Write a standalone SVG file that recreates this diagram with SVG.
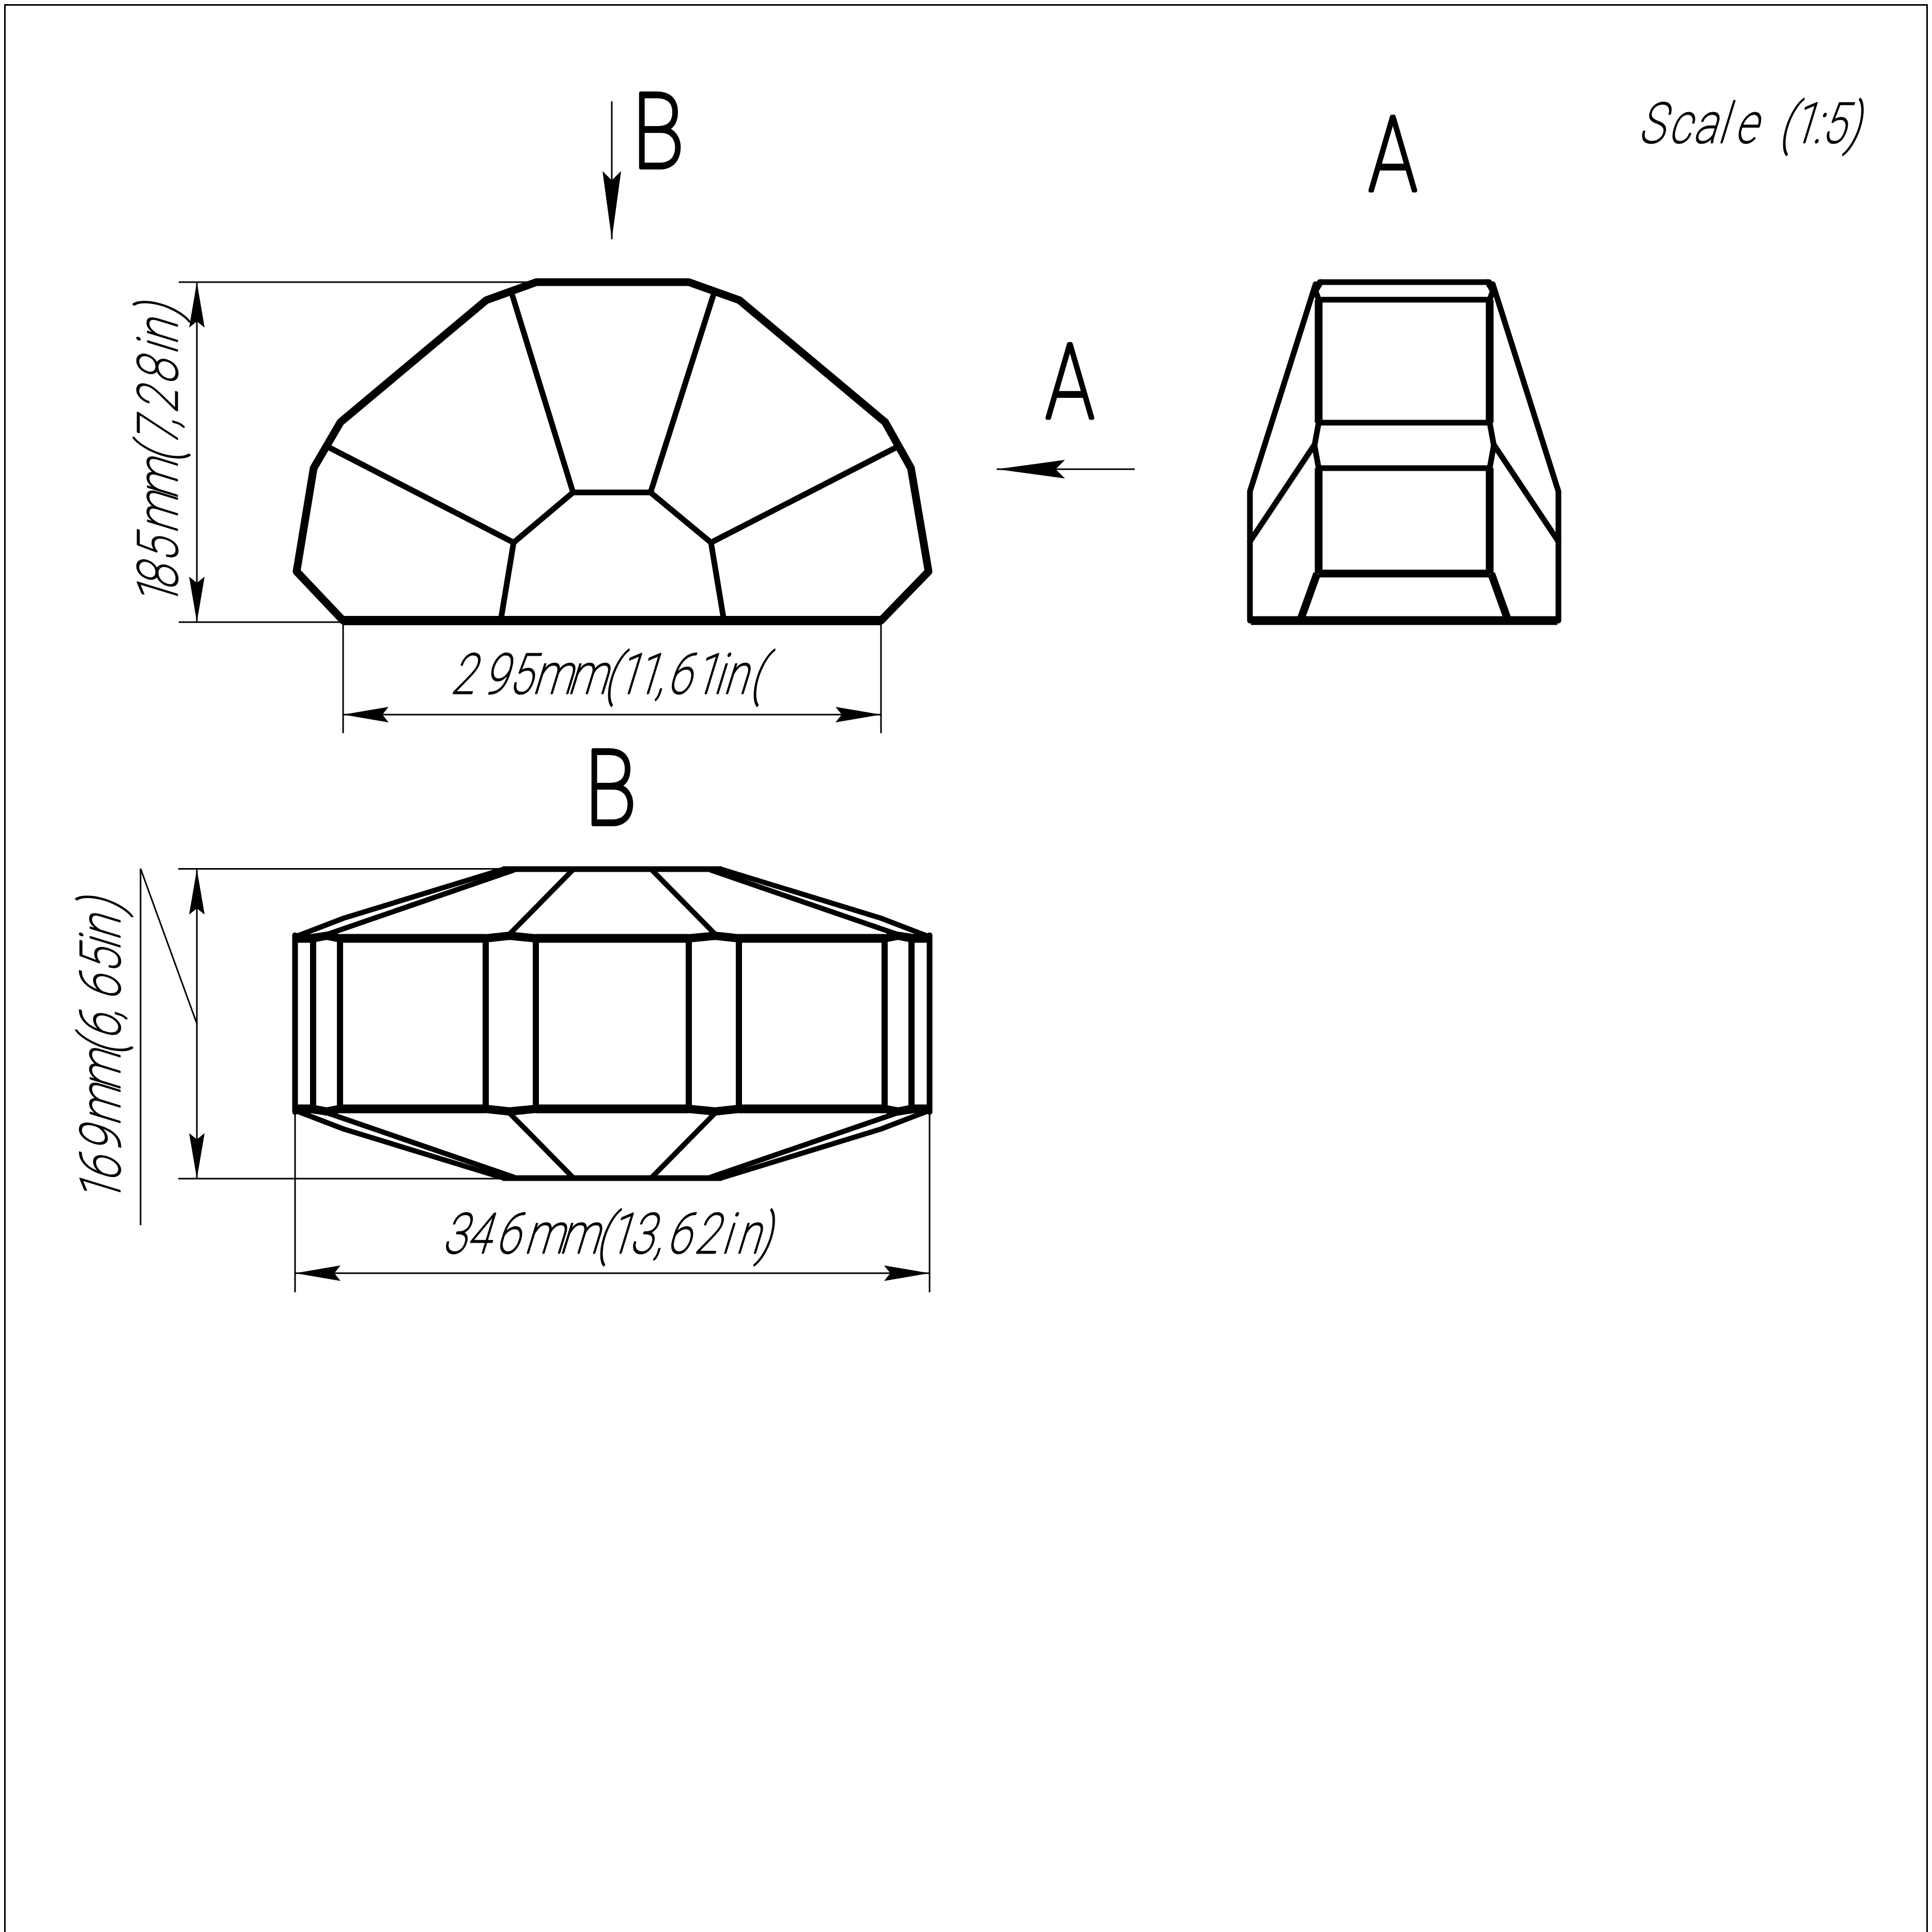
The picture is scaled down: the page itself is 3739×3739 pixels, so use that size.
<svg xmlns="http://www.w3.org/2000/svg" width="3739" height="3739" viewBox="0 0 3739 3739">
<style>
.o{fill:none;stroke:#000;stroke-width:15;stroke-linejoin:round;stroke-linecap:round}
.i{fill:none;stroke:#000;stroke-width:11;stroke-linejoin:round;stroke-linecap:round}
.j{fill:none;stroke:#000;stroke-width:10;stroke-linejoin:round;stroke-linecap:round}
.h{fill:none;stroke:#000;stroke-width:16;stroke-linejoin:round;stroke-linecap:butt}
.v{fill:none;stroke:#000;stroke-width:12}
.t{fill:none;stroke:#000;stroke-width:3}
.big{font-family:Roboto,"Liberation Sans",sans-serif;font-weight:100;font-size:200px;fill:#000;stroke:#000;stroke-width:8;stroke-linejoin:round}
.dim{font-family:Roboto,"Liberation Sans",sans-serif;font-weight:100;font-size:108px;fill:#000;stroke:#000;stroke-width:3;stroke-linejoin:round}
</style>
<defs>
<polygon id="ar" points="0,0 88,-15 76,0 88,15" fill="#000"/>
<g id="halfB">
<polyline class="j" points="574,1812 665,1777 975,1682"/>
<polyline class="j" points="606,1812 634,1808 994,1684"/>
<polyline class="j" points="1796,1812 1705,1777 1395,1682"/>
<polyline class="j" points="1764,1812 1736,1808 1376,1684"/>
<line class="j" x1="986" y1="1808" x2="1108" y2="1684"/>
<line class="j" x1="1384" y1="1808" x2="1262" y2="1684"/>
<path class="h" d="M571 1816H606M658 1816H940M1037 1816H1333M1430 1816H1712M1764 1816H1799" style="stroke-width:17"/>
<polyline class="h" points="606,1816 632,1811 658,1816"/>
<polyline class="h" points="940,1816 986,1811 1037,1816"/>
<polyline class="h" points="1333,1816 1384,1811 1430,1816"/>
<polyline class="h" points="1712,1816 1738,1811 1764,1816"/>
<line x1="973" y1="1682" x2="1397" y2="1682" style="stroke:#000;stroke-width:11"/>
</g>
</defs>
<path class="t" d="M9.500 3739V9.500H3729.500V3739"/>

<g id="front-view">
<polygon class="o" points="1038,546 1333,546 1431,581 1713,817 1763,906 1797,1106 1705,1201 664,1201 574,1106 607,906 659,817 941,581"/>
<line x1="664" y1="1201" x2="1705" y2="1201" style="stroke:#000;stroke-width:18"/>
<line x1="1038" y1="546" x2="1333" y2="546" style="stroke:#000;stroke-width:14"/>
<polyline class="i" points="992,573 1109,953 1259,953 1380,573"/>
<polyline class="i" points="635,865 994,1050 1109,953"/>
<polyline class="i" points="1736,865 1376,1050 1259,953"/>
<line class="i" x1="994" y1="1050" x2="970" y2="1195"/>
<line class="i" x1="1376" y1="1050" x2="1400" y2="1195"/>
</g>

<g id="top-view">
<use href="#halfB"/>
<use href="#halfB" transform="matrix(1 0 0 -1 0 3962)"/>
<path class="v" d="M606 1816V2146M658 1816V2146M940 1816V2146M1037 1816V2146M1333 1816V2146M1430 1816V2146M1712 1816V2146M1764 1816V2146"/>
<path class="v" d="M571 1810V2152M1799 1810V2152" style="stroke-width:11;stroke-linecap:round"/>
</g>

<g id="side-view">
<line x1="2554" y1="546" x2="2882" y2="546" class="i"/>
<line x1="2552" y1="580" x2="2883" y2="580" class="i"/>
<line x1="2552" y1="818" x2="2883" y2="818" class="i"/>
<line x1="2552" y1="906" x2="2883" y2="906" class="i"/>
<line x1="2552" y1="1110" x2="2883" y2="1110" style="stroke:#000;stroke-width:15"/>
<path d="M2552 580V818M2883 580V818M2552 906V1110M2883 906V1110" style="fill:none;stroke:#000;stroke-width:15"/>
<polyline class="i" points="2552,818 2544,862 2552,906"/>
<polyline class="i" points="2883,818 2891,862 2883,906"/>
<polyline class="i" points="2556,546 2546,563 2552,580"/>
<polyline class="i" points="2879,546 2889,563 2883,580"/>
<polyline class="i" points="2546,550 2419,951 2419,1201"/>
<polyline class="i" points="2889,550 3016,951 3016,1201"/>
<line class="i" x1="2543" y1="862" x2="2419" y2="1048"/>
<line class="i" x1="2892" y1="862" x2="3016" y2="1048"/>
<line x1="2549" y1="1110" x2="2517" y2="1199" style="stroke:#000;stroke-width:15"/>
<line x1="2886" y1="1110" x2="2918" y2="1199" style="stroke:#000;stroke-width:15"/>
<line x1="2421" y1="1201" x2="3014" y2="1201" style="stroke:#000;stroke-width:17"/>
</g>

<g id="connectors">
<path class="t" d="M346 546H1040M346 1204H670M381 546V1204M664 1204V1419M1705 1204V1419M664 1383H1705"/>
<use href="#ar" transform="translate(381,546) rotate(90)"/>
<use href="#ar" transform="translate(381,1204) rotate(-90)"/>
<use href="#ar" transform="translate(664,1383)"/>
<use href="#ar" transform="translate(1705,1383) rotate(180)"/>
<path class="t" d="M1184 196V463"/>
<use href="#ar" transform="translate(1184,463) rotate(-90) scale(1.5 1.2)"/>
<path class="t" d="M1929 908H2196"/>
<use href="#ar" transform="translate(1929,908) scale(1.5 1.2)"/>
<path class="t" d="M345 1681.500H975M345 2281H975M381 1682V2281M272 1681L381 1981M272 1681V2371M571 2150V2501M1799 2150V2501M571 2464H1799"/>
<use href="#ar" transform="translate(381,1682) rotate(90)"/>
<use href="#ar" transform="translate(381,2281) rotate(-90)"/>
<use href="#ar" transform="translate(571,2464)"/>
<use href="#ar" transform="translate(1799,2464) rotate(180)"/>
</g>

<g id="labels">
<text class="big" transform="translate(1224,324) scale(.82 1)">B</text>
<text class="big" transform="translate(1132,1595) scale(.82 1)">B</text>
<text class="big" transform="translate(2649,369) scale(.78 1)">A</text>
<text class="big" transform="translate(2024,809) scale(.78 1)">A</text>
<text class="dim" transform="translate(0,1342) skewX(-17) scale(.78 1)" x="1116.700 1197.400 1260.300 1320.500 1407.700 1497.400 1526.900 1574.400 1625.600 1653.800 1717.900 1769.200 1793.600 1859" y="0">295mm(11,61in(</text>
<text class="dim" transform="translate(0,2425) skewX(-17) scale(.78 1)" x="1096.200 1155.100 1228.200 1300 1387.200 1478.200 1506.400 1560.300 1621.800 1652.600 1720.500 1788.500 1824.400 1878.200" y="0">346mm(13,62in)</text>
<text class="dim" transform="translate(343,1180) rotate(-90) skewX(-17) scale(.78 1)" x="3.800 47.400 115.400 188.500 273.100 364.100 406.400 452.600 485.900 557.700 632.100 656.400 721.800" y="0">185mm(7,28in)</text>
<text class="dim" transform="translate(232.400,2335) rotate(-90) skewX(-17) scale(.78 1)" x="5.100 60.300 132.100 200 285.900 374.400 412.800 465.400 510.300 576.900 634.600 659 726.900" y="0">169mm(6,65in)</text>
<text class="dim" transform="translate(0,275.600) skewX(-17) scale(.78 1)" x="4064.100 4138.500 4200 4260.300 4302.600 4384.600 4412.800 4443.600 4497.400 4517.900 4579.500" y="0">Scale (1:5)</text>
</g>
</svg>
